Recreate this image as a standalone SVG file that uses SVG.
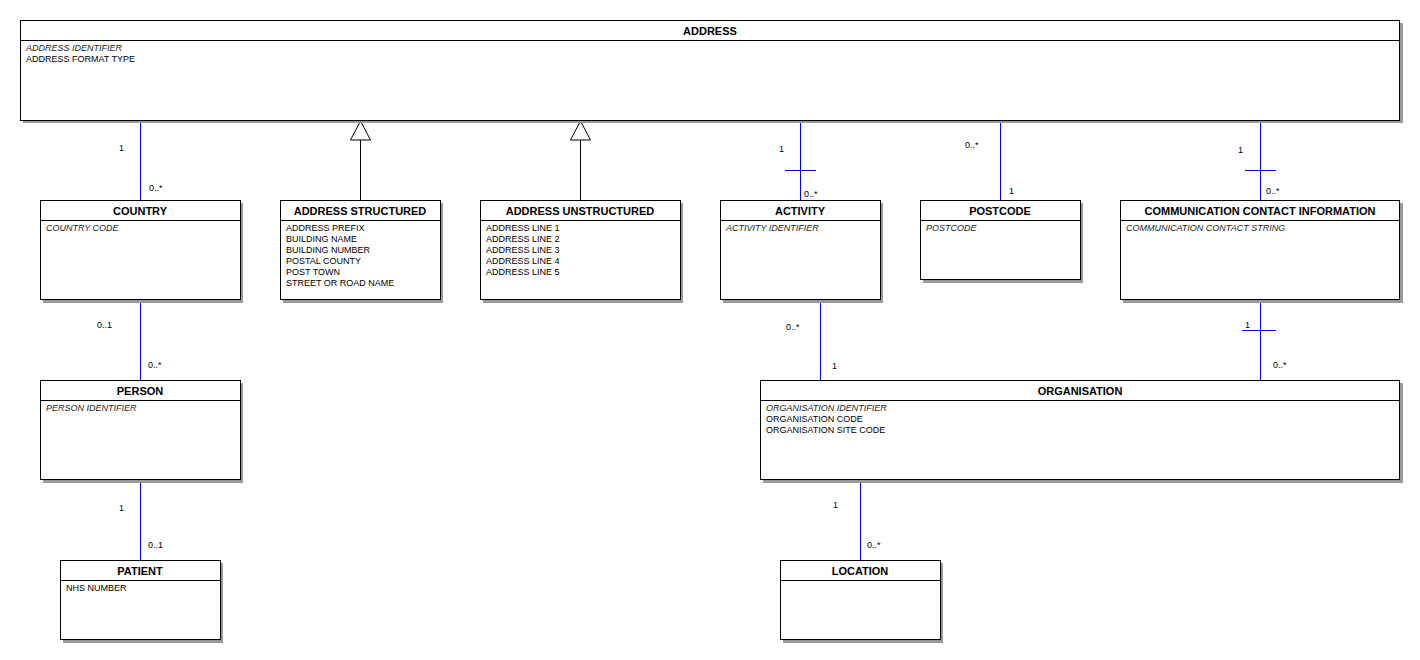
<svg xmlns="http://www.w3.org/2000/svg" width="1420" height="660" viewBox="0 0 1420 660">
<style>
.sh{fill:#999;}
.bx{fill:#fff;stroke:#000;stroke-width:1;}
.hl{stroke:#000;stroke-width:1;}
.t{font-family:"Liberation Sans",Arial,sans-serif;font-size:11px;font-weight:bold;text-anchor:middle;fill:#000;}
.a{font-family:"Liberation Sans",Arial,sans-serif;font-size:9px;fill:#000;}
.i{font-style:italic;fill:#222;}
.c{stroke:#0000ff;stroke-width:1;fill:none;}
.g{stroke:#000;stroke-width:1;fill:none;}
.m{font-family:"Liberation Sans",Arial,sans-serif;font-size:9px;fill:#000;}
</style>
<rect width="1420" height="660" fill="#fff"/>
<g id="connectors">
<line class="c" x1="140.5" y1="121" x2="140.5" y2="200"/>
<text class="m" x="119" y="151">1</text><text class="m" x="149" y="191">0..*</text>
<line class="g" x1="360.5" y1="140" x2="360.5" y2="200"/>
<polygon points="360.5,121 350.5,140 370.5,140" fill="#fff" stroke="#000"/>
<line class="g" x1="580.5" y1="140" x2="580.5" y2="200"/>
<polygon points="580.5,121 570.5,140 590.5,140" fill="#fff" stroke="#000"/>
<line class="c" x1="800.5" y1="121" x2="800.5" y2="200"/>
<line class="c" x1="785" y1="170.5" x2="816" y2="170.5"/>
<text class="m" x="779" y="152">1</text><text class="m" x="804" y="197">0..*</text>
<line class="c" x1="1000.5" y1="121" x2="1000.5" y2="200"/>
<text class="m" x="965" y="148">0..*</text><text class="m" x="1009" y="194">1</text>
<line class="c" x1="1260.5" y1="121" x2="1260.5" y2="200"/>
<line class="c" x1="1245" y1="170.5" x2="1276" y2="170.5"/>
<text class="m" x="1238" y="153">1</text><text class="m" x="1266" y="194">0..*</text>
<line class="c" x1="140.5" y1="301" x2="140.5" y2="380"/>
<text class="m" x="97" y="328">0..1</text><text class="m" x="148" y="368">0..*</text>
<line class="c" x1="140.5" y1="481" x2="140.5" y2="560"/>
<text class="m" x="119" y="511">1</text><text class="m" x="148" y="548">0..1</text>
<line class="c" x1="820.5" y1="301" x2="820.5" y2="380"/>
<text class="m" x="786" y="330">0..*</text><text class="m" x="832" y="369">1</text>
<line class="c" x1="1260.5" y1="301" x2="1260.5" y2="380"/>
<line class="c" x1="1242" y1="330.5" x2="1276" y2="330.5"/>
<text class="m" x="1245" y="328">1</text><text class="m" x="1273" y="368">0..*</text>
<line class="c" x1="860.5" y1="481" x2="860.5" y2="560"/>
<text class="m" x="833" y="508">1</text><text class="m" x="867" y="548">0..*</text>
</g>
<g id="address">
<rect class="sh" x="23" y="23" width="1380" height="100"/>
<rect class="bx" x="20.5" y="20.5" width="1379" height="100"/>
<line class="hl" x1="20.5" y1="40.5" x2="1399.5" y2="40.5"/>
<text class="t" x="710" y="35">ADDRESS</text>
<text class="a i" x="26" y="51">ADDRESS IDENTIFIER</text>
<text class="a" x="26" y="62">ADDRESS FORMAT TYPE</text>
</g>
<g id="country">
<rect class="sh" x="43" y="203" width="200" height="100"/>
<rect class="bx" x="40.5" y="200.5" width="200" height="99"/>
<line class="hl" x1="40.5" y1="220.5" x2="240.5" y2="220.5"/>
<text class="t" x="140" y="215">COUNTRY</text>
<text class="a i" x="46" y="231">COUNTRY CODE</text>
</g>
<g id="address-structured">
<rect class="sh" x="283" y="203" width="160" height="100"/>
<rect class="bx" x="280.5" y="200.5" width="160" height="99"/>
<line class="hl" x1="280.5" y1="220.5" x2="440.5" y2="220.5"/>
<text class="t" x="360" y="215">ADDRESS STRUCTURED</text>
<text class="a" x="286" y="231">ADDRESS PREFIX</text>
<text class="a" x="286" y="242">BUILDING NAME</text>
<text class="a" x="286" y="253">BUILDING NUMBER</text>
<text class="a" x="286" y="264">POSTAL COUNTY</text>
<text class="a" x="286" y="275">POST TOWN</text>
<text class="a" x="286" y="286">STREET OR ROAD NAME</text>
</g>
<g id="address-unstructured">
<rect class="sh" x="483" y="203" width="200" height="100"/>
<rect class="bx" x="480.5" y="200.5" width="200" height="99"/>
<line class="hl" x1="480.5" y1="220.5" x2="680.5" y2="220.5"/>
<text class="t" x="580" y="215">ADDRESS UNSTRUCTURED</text>
<text class="a" x="486" y="231">ADDRESS LINE 1</text>
<text class="a" x="486" y="242">ADDRESS LINE 2</text>
<text class="a" x="486" y="253">ADDRESS LINE 3</text>
<text class="a" x="486" y="264">ADDRESS LINE 4</text>
<text class="a" x="486" y="275">ADDRESS LINE 5</text>
</g>
<g id="activity">
<rect class="sh" x="723" y="203" width="160" height="100"/>
<rect class="bx" x="720.5" y="200.5" width="160" height="99"/>
<line class="hl" x1="720.5" y1="220.5" x2="880.5" y2="220.5"/>
<text class="t" x="800" y="215">ACTIVITY</text>
<text class="a i" x="726" y="231">ACTIVITY IDENTIFIER</text>
</g>
<g id="postcode">
<rect class="sh" x="923" y="203" width="160" height="80"/>
<rect class="bx" x="920.5" y="200.5" width="160" height="79"/>
<line class="hl" x1="920.5" y1="220.5" x2="1080.5" y2="220.5"/>
<text class="t" x="1000" y="215">POSTCODE</text>
<text class="a i" x="926" y="231">POSTCODE</text>
</g>
<g id="communication-contact-information">
<rect class="sh" x="1123" y="203" width="280" height="100"/>
<rect class="bx" x="1120.5" y="200.5" width="279" height="99"/>
<line class="hl" x1="1120.5" y1="220.5" x2="1399.5" y2="220.5"/>
<text class="t" x="1260" y="215">COMMUNICATION CONTACT INFORMATION</text>
<text class="a i" x="1126" y="231">COMMUNICATION CONTACT STRING</text>
</g>
<g id="person">
<rect class="sh" x="43" y="383" width="200" height="100"/>
<rect class="bx" x="40.5" y="380.5" width="200" height="99"/>
<line class="hl" x1="40.5" y1="400.5" x2="240.5" y2="400.5"/>
<text class="t" x="140" y="395">PERSON</text>
<text class="a i" x="46" y="411">PERSON IDENTIFIER</text>
</g>
<g id="organisation">
<rect class="sh" x="763" y="383" width="640" height="100"/>
<rect class="bx" x="760.5" y="380.5" width="639" height="99"/>
<line class="hl" x1="760.5" y1="400.5" x2="1399.5" y2="400.5"/>
<text class="t" x="1080" y="395">ORGANISATION</text>
<text class="a i" x="766" y="411">ORGANISATION IDENTIFIER</text>
<text class="a" x="766" y="422">ORGANISATION CODE</text>
<text class="a" x="766" y="433">ORGANISATION SITE CODE</text>
</g>
<g id="patient">
<rect class="sh" x="63" y="563" width="160" height="80"/>
<rect class="bx" x="60.5" y="560.5" width="160" height="79"/>
<line class="hl" x1="60.5" y1="580.5" x2="220.5" y2="580.5"/>
<text class="t" x="140" y="575">PATIENT</text>
<text class="a" x="66" y="591">NHS NUMBER</text>
</g>
<g id="location">
<rect class="sh" x="783" y="563" width="160" height="80"/>
<rect class="bx" x="780.5" y="560.5" width="160" height="79"/>
<line class="hl" x1="780.5" y1="580.5" x2="940.5" y2="580.5"/>
<text class="t" x="860" y="575">LOCATION</text>
</g>
</svg>
